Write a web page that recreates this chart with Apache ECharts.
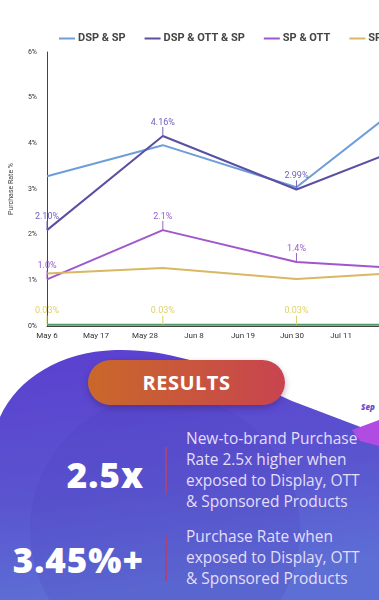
<!DOCTYPE html>
<html><head><meta charset="utf-8">
<script src="https://cdn.jsdelivr.net/npm/echarts@6/dist/echarts.min.js"></script>
<style>
html,body{margin:0;padding:0;width:379px;height:600px;overflow:hidden;background:#fff;font-family:"Open Sans",Roboto,sans-serif;}
#chart{position:absolute;left:0;top:0;width:460px;height:350px;}
#panel{position:absolute;left:0;top:0;width:379px;height:600px;pointer-events:none;}
.pill{position:absolute;left:88px;top:360px;width:197px;height:45px;border-radius:23px;background:linear-gradient(90deg,#c9682a,#c8444f);box-shadow:0 3px 6px rgba(60,20,80,0.35);color:#fff;font-weight:700;font-size:20px;line-height:45px;text-align:center;letter-spacing:0.5px;}
.big{position:absolute;color:#fff;font-weight:800;font-size:35px;text-align:right;width:140px;letter-spacing:1px;}
.bar{position:absolute;left:165px;width:2px;background:#a2457e;}
.txt{position:absolute;left:186px;color:#e4def9;font-size:15.5px;line-height:21px;white-space:nowrap;}
.sep{position:absolute;left:361px;top:401px;font-size:8px;font-weight:800;font-style:italic;color:#6a4fcc;}
</style></head>
<body>
<svg id="panel" width="379" height="600" viewBox="0 0 379 600">
  <defs>
    <linearGradient id="g1" x1="0" y1="0" x2="0.2" y2="1">
      <stop offset="0" stop-color="#5b3fd0"/>
      <stop offset="0.6" stop-color="#5a55cf"/>
      <stop offset="1" stop-color="#5d6fd5"/>
    </linearGradient>
  </defs>
  <path d="M0,417 C18,378 60,352 115,350 C175,348 230,372 292,401 L379,434 L379,600 L0,600 Z" fill="url(#g1)"/>
  <circle cx="165" cy="530" r="135" fill="rgba(80,60,190,0.18)"/>
  <path d="M352,430 L379,420 L379,446 L360,441 Z" fill="#b14ce2"/>
</svg>
<div id="chart"></div>
<div class="pill">RESULTS</div>
<div class="sep">Sep</div>
<div class="big" style="left:4px;top:451px;">2.5x</div>
<div class="bar" style="top:447px;height:47px;"></div>
<div class="txt" style="top:428px;">New-to-brand Purchase<br>Rate 2.5x higher when<br>exposed to Display, OTT<br>&amp; Sponsored Products</div>
<div class="big" style="left:4px;top:536px;">3.45%+</div>
<div class="bar" style="top:536px;height:45px;"></div>
<div class="txt" style="top:526px;">Purchase Rate when<br>exposed to Display, OTT<br>&amp; Sponsored Products</div>
<script>
// ---- data ----
const startDate = "2023-05-06";
const dates = ["2023-05-06", "2023-06-01", "2023-07-01", "2023-08-01"];
const tickLabels = ["May 6", "May 17", "May 28", "Jun 8", "Jun 19", "Jun 30", "Jul 11", "Jul 22", "Aug 2"];
const seriesNames = ["DSP & SP", "DSP & OTT & SP", "SP & OTT", "SP", "OTT"];
const dspSp = [3.28, 3.96, 3.04, 5.40];
const dspOttSp = [2.10, 4.16, 2.99, 4.17];
const spOtt = [1.02, 2.10, 1.40, 1.22];
const spOnly = [1.15, 1.27, 1.03, 1.21];
const ottOnly = [0.03, 0.03, 0.03, 0.03];
const yTicks = [0, 1, 2, 3, 4, 5, 6];

function dayOffset(s) {
  const p = s.split("-").map(Number), q = startDate.split("-").map(Number);
  return (Date.UTC(p[0], p[1] - 1, p[2]) - Date.UTC(q[0], q[1] - 1, q[2])) / 86400000;
}
const xs = dates.map(dayOffset);
const pairs = arr => arr.map((v, i) => [xs[i], v]);

const chart = echarts.init(document.getElementById('chart'), null, {renderer: 'canvas'});
function mkSeries(name, arr, color, labelColor, decimals) {
  const s = {
    name: name, type: 'line', data: pairs(arr), showSymbol: false, symbol: 'circle', symbolSize: 2,
    lineStyle: {width: 2, color: color}, itemStyle: {color: color}, z: 2
  };
  if (labelColor) {
    s.showSymbol = true;
    s.symbolSize = 0.1;
    s.label = {show: true, position: 'top', distance: 1, color: labelColor, fontSize: 9, fontFamily: 'Roboto',
      formatter: p => p.value[1].toFixed(decimals) + '%'};
    s.labelLayout = {dy: -8};
    s.labelLine = {show: true, lineStyle: {color: labelColor, width: 1}};
  }
  return s;
}
const step = 11;
chart.setOption({
  animation: false,
  backgroundColor: 'transparent',
  textStyle: {fontFamily: 'Roboto'},
  legend: {
    data: seriesNames.slice(0, 4), left: 54, top: 28, icon: 'rect', itemWidth: 16, itemHeight: 2, itemGap: 19,
    textStyle: {fontSize: 11, fontWeight: 'bold', color: '#444', fontFamily: 'Roboto', padding: [0, 0, 0, -2]}
  },
  grid: {left: 43, right: 21, top: 52, bottom: 24, containLabel: false},
  xAxis: {
    type: 'value', min: 0, max: step * (tickLabels.length - 1), interval: step,
    axisLine: {lineStyle: {color: '#444', width: 1}}, axisTick: {show: false}, splitLine: {show: false},
    axisLabel: {fontSize: 8, color: '#333', margin: 6, formatter: v => tickLabels[Math.round(v / step)] || ''}
  },
  yAxis: {
    type: 'value', min: yTicks[0], max: yTicks[yTicks.length - 1], interval: 1,
    name: 'Purchase Rate %', nameLocation: 'middle', nameGap: 32, nameTextStyle: {fontSize: 7, color: '#444'},
    axisLine: {show: true, lineStyle: {color: '#444', width: 1}}, axisTick: {show: false}, splitLine: {show: false},
    axisLabel: {fontSize: 7, color: '#333', margin: 10, formatter: '{value}%'}
  },
  series: [
    mkSeries(seriesNames[0], dspSp, '#6e9dd8', null),
    mkSeries(seriesNames[1], dspOttSp, '#5a4fa2', '#6e62be', 2),
    mkSeries(seriesNames[2], spOtt, '#a057cb', '#9a5fcd', 1),
    mkSeries(seriesNames[3], spOnly, '#d8b862', null),
    mkSeries(seriesNames[4], ottOnly, '#4f9a64', '#ded26a', 2)
  ]
});
</script>
</body></html>
